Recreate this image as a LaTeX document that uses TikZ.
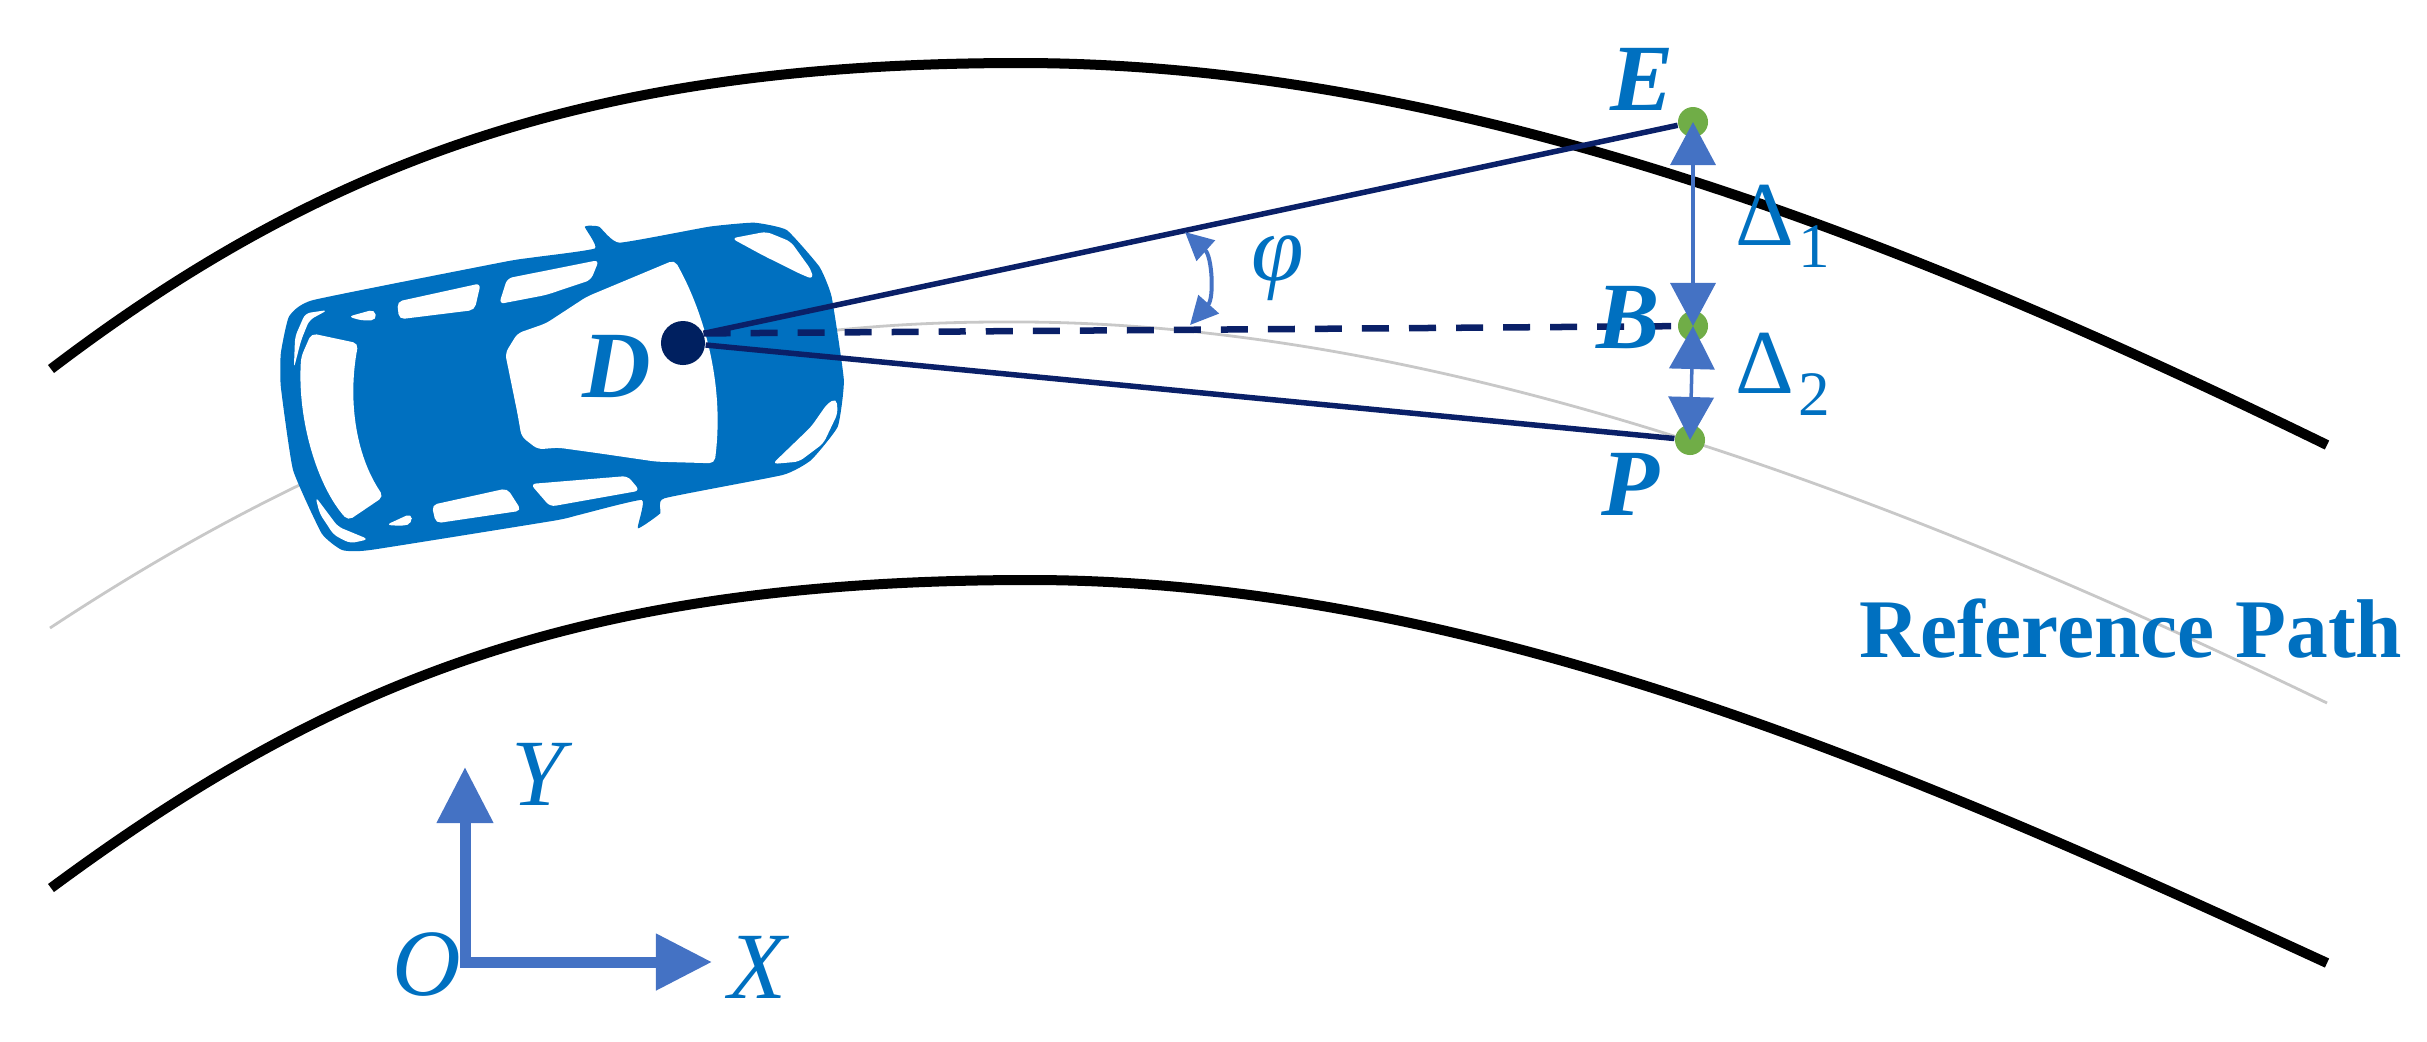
\documentclass[tikz,border=0pt]{standalone}
\usepackage{fontspec}
\setmainfont{Liberation Serif}
\usetikzlibrary{arrows.meta}
\definecolor{carblue}{HTML}{0070C0}
\definecolor{arrowblue}{HTML}{4472C4}
\definecolor{sightnavy}{HTML}{0A2068}
\definecolor{dotnavy}{HTML}{002060}
\definecolor{dotgreen}{HTML}{70AD47}
\definecolor{pathgray}{HTML}{C8C8C8}
\tikzset{
  road/.style={line width=.1cm, black, line cap=butt},
  refpath/.style={line width=.028cm, pathgray, line cap=butt},
  sight/.style={line width=.055cm, sightnavy},
  pointnode/.style={circle, fill=dotgreen, inner sep=0pt, minimum size=.3cm},
  drivernode/.style={circle, fill=dotnavy, inner sep=0pt, minimum size=.44cm},
  gap/.style={line width=.035cm, arrowblue, {Triangle[width=.45cm,length=.43cm]}-{Triangle[width=.45cm,length=.43cm]}},
  axis/.style={line width=.11cm, arrowblue, line cap=rect, -{Triangle[width=.54cm,length=.56cm]}},
  window/.style={fill=white, rounded corners=1.5pt},
  letter/.style={carblue, anchor=base, font=\fontsize{27}{27}\selectfont\bfseries\itshape, inner sep=0pt},
  axislabel/.style={carblue, anchor=base, font=\fontsize{27}{27}\selectfont\itshape, inner sep=0pt},
  gaplabel/.style={carblue, anchor=base west, font=\fontsize{26}{26}\selectfont, inner sep=0pt},
}
\newcommand{\lowered}[1]{\kern1pt\raisebox{-6.3pt}{\fontsize{18}{18}\selectfont #1}}

\begin{document}
\begin{tikzpicture}[x=.01cm, y=-.01cm, line join=round]
  \useasboundingbox (0,0) rectangle (2427,1041);
  % road edges and the path
  \draw[road] (51,369) .. controls (331,156) and (600,63) .. (1020,63) .. controls (1470,63) and (1927,250) .. (2327,445);
  \draw[road] (51,888) .. controls (331,681) and (580,580) .. (1030,580) .. controls (1480,580) and (1927,779) .. (2327,963);
  \draw[refpath] (50,628) .. controls (350,430) and (650,322) .. (1000,322) .. controls (1450,318) and (1927,510) .. (2327,703);
  % car
  \begin{scope}[shift={(240,180)}, xscale=.408, yscale=.3333]
    \fill[carblue] plot[smooth cycle, tension=.25] coordinates {(180,360) (650,245) (720,232) (870,205) (845,140) (880,140) (930,188) (1150,140) (1260,128) (1340,150) (1420,260) (1450,350) (1480,600) (1465,740) (1400,840) (1330,885) (1040,955) (1030,1000) (975,1045) (985,960) (830,1005) (770,1022) (320,1110) (250,1110) (200,1060) (130,870) (100,620) (100,520) (120,410)};
    \fill[window] (1065,240) .. controls (1130,380) and (1190,600) .. (1163,850) -- (1020,845) -- (880,820) -- (780,803) -- (730,808) -- (690,770) -- (680,700) -- (650,520) -- (680,460) -- (750,430) -- (850,350) -- cycle;
    \fill[window] (175,460) -- (290,490) .. controls (265,650) and (280,820) .. (352,950) -- (265,1022) .. controls (190,920) and (140,720) .. (150,530) -- cycle;
    \fill[window] (385,365) -- (590,310) -- (575,390) -- (390,418) -- cycle;
    \fill[window] (655,295) -- (880,240) -- (860,300) -- (750,345) -- (635,372) -- cycle;
    \fill[window] (265,410) -- (330,388) -- (335,420) -- (300,422) -- cycle;
    \fill[window] (470,975) -- (655,925) -- (690,992) -- (480,1030) -- cycle;
    \fill[window] (712,912) -- (950,888) -- (980,932) -- (760,980) -- cycle;
    \fill[window] (358,1035) -- (420,1000) -- (422,1030) -- (400,1038) -- cycle;
    \fill[window] (1205,175) -- (1290,155) -- (1350,185) -- (1400,270) -- (1405,298) -- (1370,280) -- (1280,225) -- cycle;
    \fill[window] (1305,852) -- (1400,740) -- (1440,670) -- (1462,655) -- (1465,700) -- (1430,790) -- (1370,845) -- cycle;
    \fill[window] (132,565) -- (135,470) -- (160,400) -- (215,390) -- (170,420) -- (150,480) -- cycle;
    \fill[window] (185,950) -- (240,1040) -- (315,1078) -- (270,1090) -- (230,1065) -- (195,1000) -- cycle;
  \end{scope}
  % sight lines
  \node[drivernode] (D) at (683,343) {};
  \node[pointnode] (E) at (1693,122) {};
  \node[pointnode] (B) at (1693,326) {};
  \node[pointnode] (P) at (1690,440) {};
  \draw[sight] (D.25) -- (E);
  \draw[sight] (D.-5) -- (P);
  \draw[sight, dash pattern=on .27cm off .2cm, line width=.065cm] (D.25) -- (B);
  \node[letter] (Dlabel) at (617,397) {D};
  \node[letter] (Elabel) at (1642,110) {E};
  \node[letter] (Blabel) at (1628,348) {B};
  \node[letter] (Plabel) at (1630,515) {P};
  % gaps and the angle
  \draw[gap] (E.center) -- (B.center);
  \draw[gap] (B.center) -- (P.center);
  \coordinate (phitop) at (1185,232);
  \coordinate (phibot) at (1190,325);
  \draw[line width=.04cm, arrowblue, {Triangle[width=.27cm,length=.28cm]}-{Triangle[width=.27cm,length=.28cm]}] (phitop) to[bend left=45] (phibot);
  \node[axislabel, anchor=center] (phi) at (1278,268) {φ};
  \node[gaplabel] (gap1) at (1735,245) {Δ\lowered{1}};
  \node[gaplabel] (gap2) at (1735,393) {Δ\lowered{2}};
  % frame
  \coordinate (O) at (465,962);
  \coordinate (Xend) at (712,962);
  \coordinate (Yend) at (465,767);
  \draw[axis] (O) -- (Xend);
  \draw[axis] (O) -- (Yend);
  \node[axislabel] (Olabel) at (427,995) {O};
  \node[axislabel] (Xlabel) at (757,998) {X};
  \node[axislabel] (Ylabel) at (538,805) {Y};
  \node[carblue, anchor=base, font=\fontsize{23.7}{24}\selectfont\bfseries, inner sep=0pt] (reflabel) at (2131,657) {Reference Path};
\end{tikzpicture}
\end{document}
